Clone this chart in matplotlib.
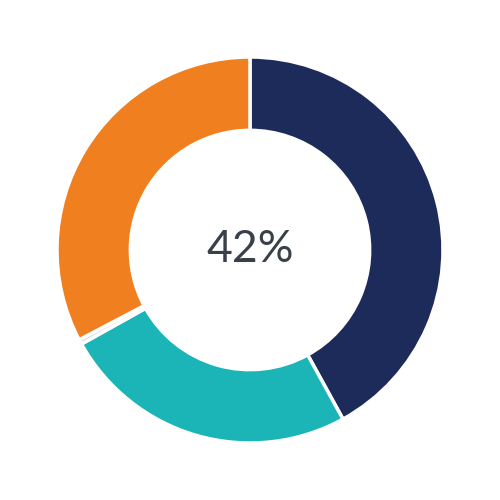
import matplotlib
matplotlib.use("Agg")
import matplotlib.pyplot as plt

labels = ["A", "B", "C", "D"]
values = [42, 24.9, 0.4, 32.7]
colors = ["#1d2b5b", "#1cb5b7", "#d5dde5", "#f07f20"]
center_text = "42%"

fig = plt.figure(figsize=(5, 5), dpi=100)
ax = fig.add_axes([0, 0, 1, 1])
ax.pie(values, colors=colors, startangle=90, counterclock=False,
       radius=1.0,
       wedgeprops=dict(width=0.38, edgecolor="white", linewidth=2.5))
lim = 250 / 193
ax.set_xlim(-lim, lim)
ax.set_ylim(-lim, lim)
ax.set_aspect("equal")
ax.axis("off")
ax.text(0, 0.0, center_text, ha="center", va="center", fontsize=32,
        color="#3a4048", family="Lato", fontweight="normal")
fig.savefig("out.png", dpi=100, facecolor="white")
